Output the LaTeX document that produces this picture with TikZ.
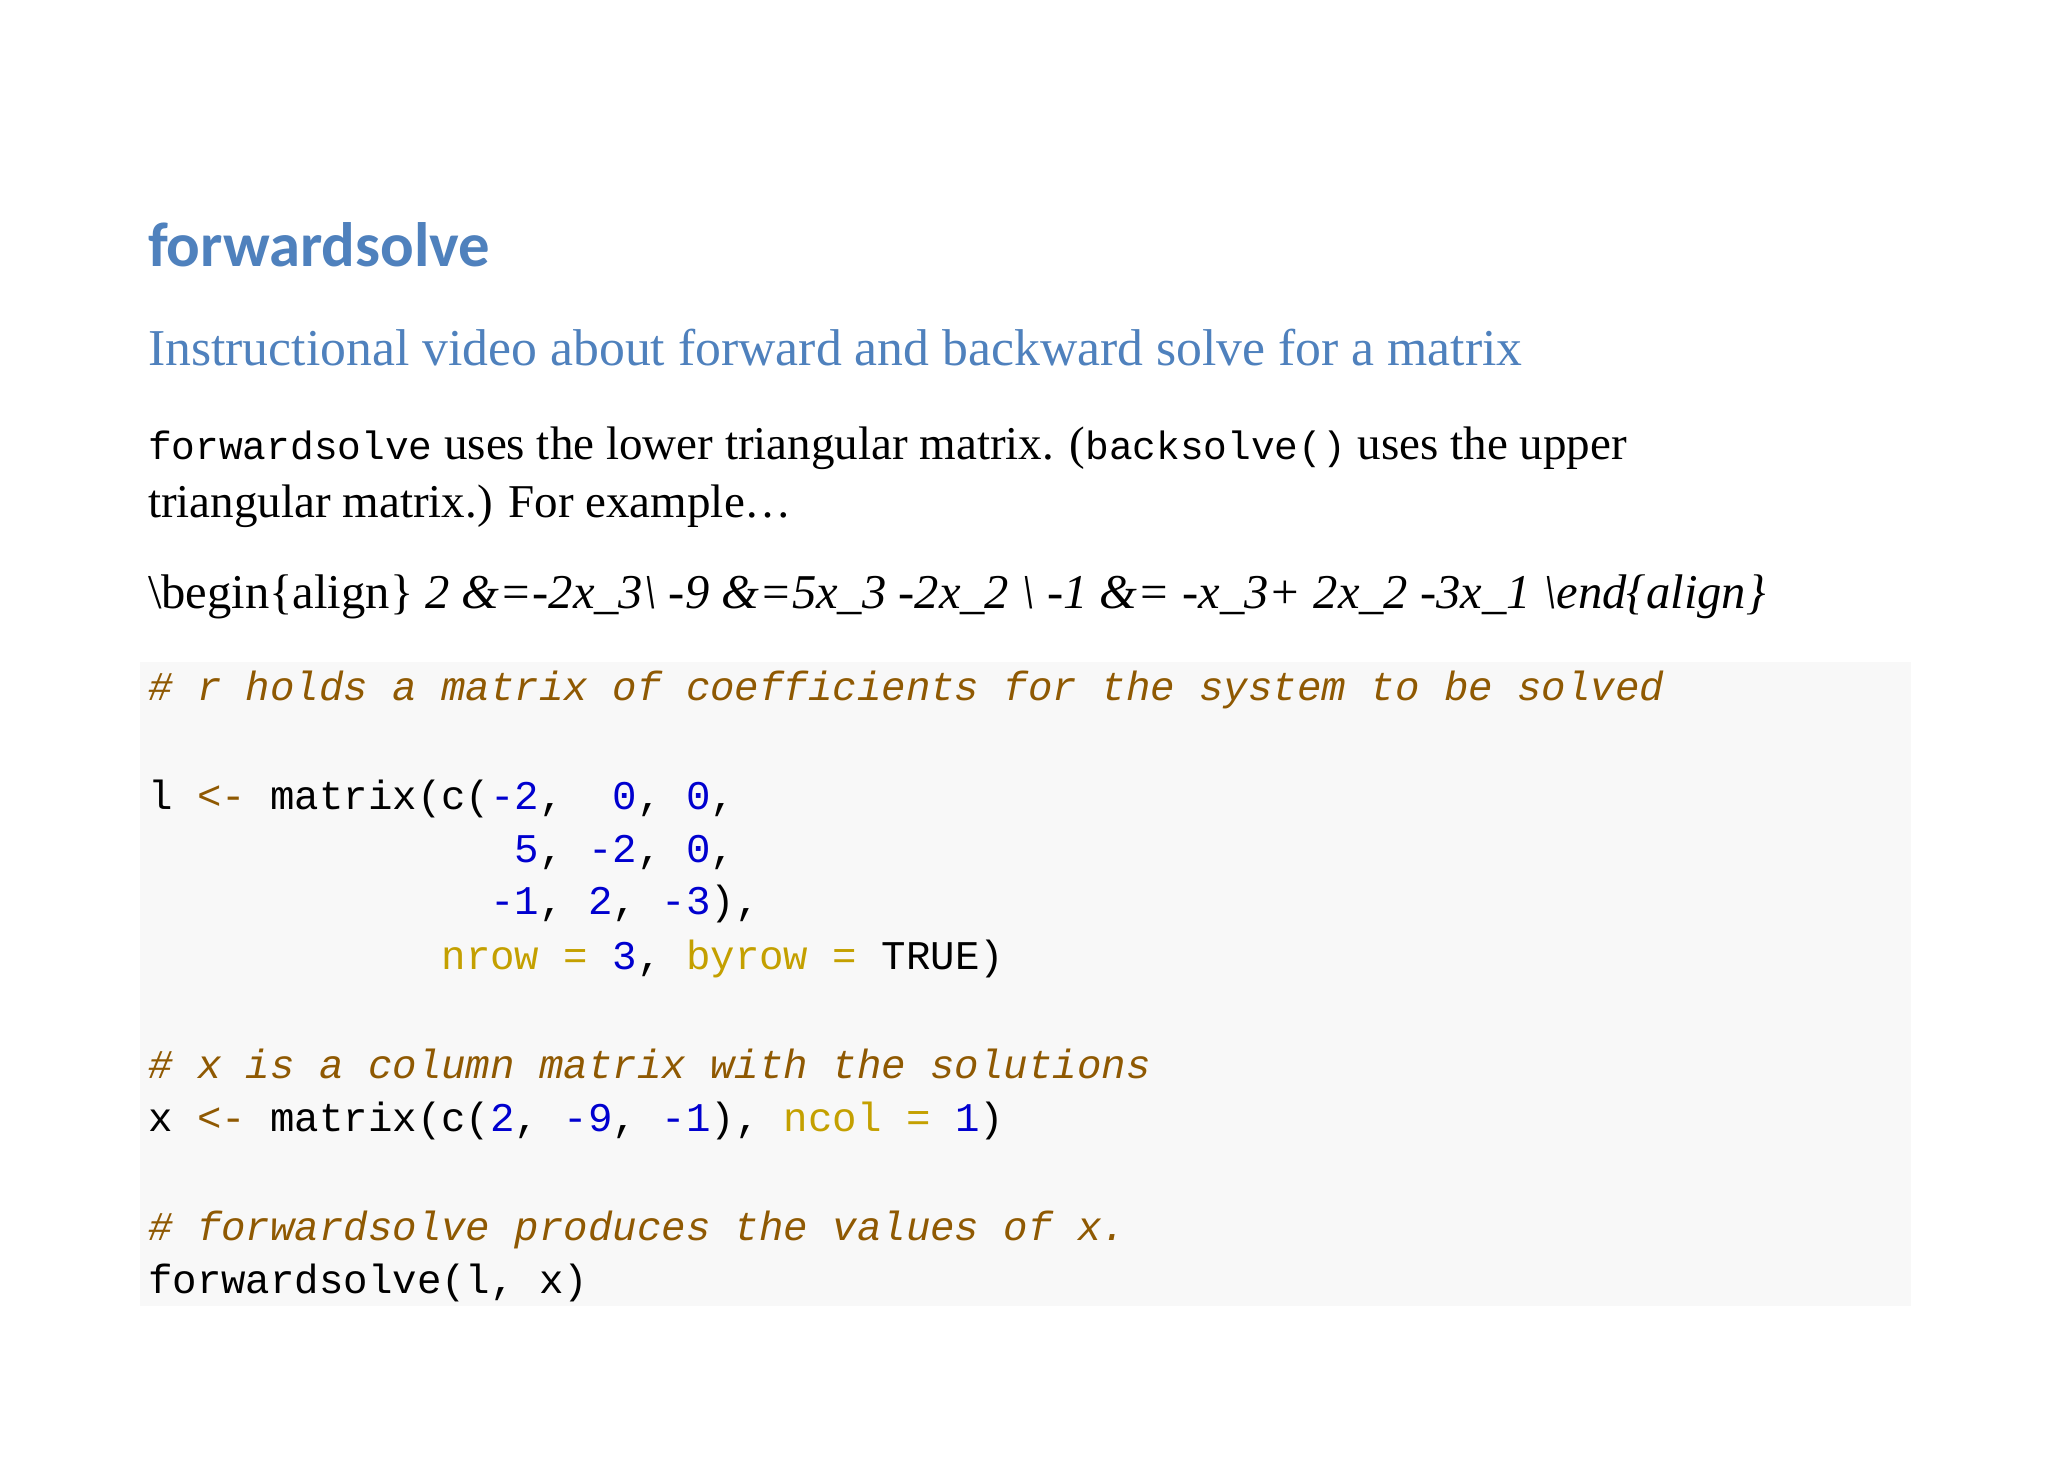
\documentclass[tikz,border=0pt]{standalone}
\usepackage{fontspec}
\setmainfont{Liberation Serif}
\newfontfamily\titlefont{Carlito}
\setmonofont{Liberation Mono}
\newfontfamily\bodymono[Scale=0.84]{Liberation Mono}
\usepackage{xcolor}
\definecolor{ttl}{HTML}{4F81BD}
\definecolor{cmt}{HTML}{8F5902}
\definecolor{num}{HTML}{0000CF}
\definecolor{arg}{HTML}{C4A000}
\definecolor{codebg}{HTML}{F8F8F8}
\newcommand{\cm}[1]{\textcolor{cmt}{\itshape #1}}
\newcommand{\nm}[1]{\textcolor{num}{#1}}
\newcommand{\ag}[1]{\textcolor{arg}{#1}}
\newcommand{\bm}[1]{{\bodymono #1}}
\tikzset{txt/.style={anchor=base west,inner sep=0pt},
code/.style={anchor=base west,inner sep=0pt,font=\ttfamily\fontsize{15.6}{18}\selectfont}}
\begin{document}
\begin{tikzpicture}[x=0.5pt,y=-0.5pt]
\useasboundingbox[fill=white] (0,0) rectangle (1568,1120);
\fill[codebg] (107,507) rectangle (1463,1000);
\node[txt,font=\titlefont\bfseries\fontsize{24}{28}\selectfont,text=ttl] (t) at (113,204) {forwardsolve};
\node[txt,font=\fontsize{19.8}{22}\selectfont,text=ttl] (s) at (113,280) {Instructional video about forward and backward solve for a matrix};
\node[txt,font=\fontsize{18}{20}\selectfont] (b1) at (113,352) {\bm{forwardsolve} uses the lower triangular matrix. (\bm{backsolve()} uses the upper};
\node[txt,font=\fontsize{18}{20}\selectfont] (b2) at (113,396) {triangular matrix.) For example\ldots};
\node[txt,font=\fontsize{18.6}{20}\selectfont] (m) at (113,466) {\textbackslash begin\{align\} \itshape 2 \&=-2x\_3\textbackslash\ -9 \&=5x\_3 -2x\_2 \textbackslash\ -1 \&= -x\_3+ 2x\_2 -3x\_1 \textbackslash end\{align\}};
\node[code] (c1) at (113,536) {\cm{\# r holds a matrix of coefficients for the system to be solved}};
\node[code] (c2) at (113,620) {l \textcolor{cmt}{<-} matrix(c(\nm{-2},~~\nm{0}, \nm{0},};
\node[code] (c3) at (113,660) {\phantom{l~<-~matrix(c(}~\nm{5}, \nm{-2}, \nm{0},};
\node[code] (c4) at (113,700) {\phantom{l~<-~matrix(c(}\nm{-1}, \nm{2}, \nm{-3}),};
\node[code] (c5) at (113,742) {\phantom{l~<-~matrix}~\ag{nrow} \ag{=} \nm{3}, \ag{byrow} \ag{=} TRUE)};
\node[code] (c6) at (113,826) {\cm{\# x is a column matrix with the solutions}};
\node[code] (c7) at (113,866) {x \textcolor{cmt}{<-} matrix(c(\nm{2}, \nm{-9}, \nm{-1}), \ag{ncol} \ag{=} \nm{1})};
\node[code] (c8) at (113,950) {\cm{\# forwardsolve produces the values of x.}};
\node[code] (c9) at (113,990) {forwardsolve(l, x)};
\end{tikzpicture}
\end{document}
